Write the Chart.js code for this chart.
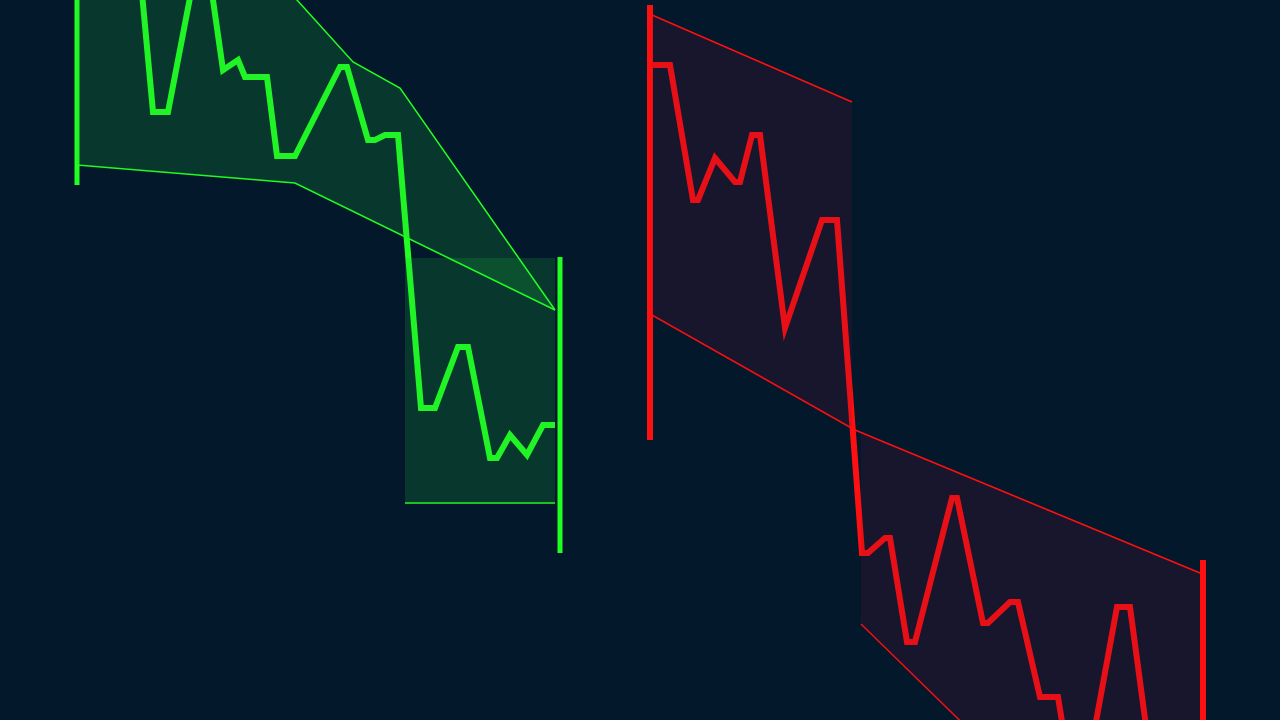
<!DOCTYPE html>
<html>
<head>
<meta charset="utf-8">
<script src="https://cdn.jsdelivr.net/npm/chart.js@4.4.1/dist/chart.umd.min.js"></script>
<style>
  html, body { margin: 0; padding: 0; background: #04182b; }
  #wrap { width: 1280px; height: 720px; }
</style>
</head>
<body>
<div id="wrap"><canvas id="myChart" width="1280" height="720"></canvas></div>
<script>
// time (x) and price (y) values
const greenTime  = [13.8, 15.3, 16.8, 20.3, 22.3, 23.8, 24.5, 26.7, 27.7, 29.5, 34.0, 34.7, 36.8, 37.5, 38.5, 39.8, 42.1, 43.5, 45.8, 46.8, 49.0, 49.7, 51.0, 52.7, 54.3, 55.5]
const greenPrice = [77.0, 60.8, 60.8, 79.0, 65.0, 66.0, 64.3, 64.3, 56.4, 56.4, 65.3, 65.3, 58.0, 58.0, 58.5, 58.5, 31.2, 31.2, 37.3, 37.3, 26.2, 26.2, 28.5, 26.5, 29.5, 29.5]

const redTime  = [65.3, 67.0, 69.3, 69.8, 71.5, 73.5, 74.0, 75.2, 76.0, 78.5, 82.2, 83.7, 86.2, 86.8, 88.5, 89.0, 90.7, 91.5, 95.2, 95.7, 98.3, 98.8, 101.0, 101.8, 104.0, 105.8, 107.8, 111.7, 113.0, 116.0]
const redPrice = [65.5, 65.5, 52.0, 52.0, 56.2, 53.8, 53.8, 58.5, 58.5, 39.2, 50.0, 50.0, 16.7, 16.7, 18.2, 18.2, 7.8, 7.8, 22.2, 22.2, 9.7, 9.7, 11.8, 11.8, 2.3, 2.3, -10.0, 11.3, 11.3, -11.0]

// channel borders
const gUpTime = [7.7, 29.7, 35.3, 40.0, 55.5], gUpPrice = [92.0, 72.0, 65.8, 63.2, 41.0]
const gLoTime = [7.7, 29.5, 55.5],             gLoPrice = [55.5, 53.7, 41.0]
const boxTime = [40.5, 55.5], boxTop = [46.2, 46.2], boxBottom = [21.7, 21.7]

const r1UpTime = [65.2, 85.2], r1UpPrice = [70.5, 61.8]
const r1LoTime = [65.2, 85.5], r1LoPrice = [40.5, 29.0]
const r2UpTime = [85.5, 120.0], r2UpPrice = [29.0, 14.7]
const r2LoTime = [86.1, 120.0], r2LoPrice = [9.6, -23.5]

// vertical markers [time, from, to]
const greenBars = [[7.7, 73.5, 53.5], [56.0, 46.3, 16.7]]
const redBars   = [[65.0, 71.5, 28.0], [120.3, 16.0, -5.0]]

const GREEN = '#22ff22', RED = '#ff1010'
const G_FILL = 'rgba(24,190,60,0.19)', R_FILL = 'rgba(120,20,60,0.17)'

function pts(xs, ys){ return xs.map((x,i) => ({x: x, y: ys[i]})) }

const datasets = []
// green channel
datasets.push({ data: pts(gUpTime, gUpPrice), borderColor: GREEN, borderWidth: 1.5, fill: '+1', backgroundColor: G_FILL })
datasets.push({ data: pts(gLoTime, gLoPrice), borderColor: GREEN, borderWidth: 1.5, fill: false })
// green box
datasets.push({ data: pts(boxTime, boxTop), borderColor: 'rgba(0,0,0,0)', borderWidth: 0, fill: '+1', backgroundColor: G_FILL })
datasets.push({ data: pts(boxTime, boxBottom), borderColor: GREEN, borderWidth: 1.5, fill: false })
// red channels
datasets.push({ data: pts(r1UpTime, r1UpPrice), borderColor: RED, borderWidth: 1.5, fill: '+1', backgroundColor: R_FILL })
datasets.push({ data: pts(r1LoTime, r1LoPrice), borderColor: RED, borderWidth: 1.5, fill: false })
datasets.push({ data: pts(r2UpTime, r2UpPrice), borderColor: RED, borderWidth: 1.5, fill: '+1', backgroundColor: R_FILL })
datasets.push({ data: pts(r2LoTime, r2LoPrice), borderColor: RED, borderWidth: 1.5, fill: false })
// price lines
datasets.push({ data: pts(greenTime, greenPrice), borderColor: GREEN, borderWidth: 6, fill: false })
datasets.push({ data: pts(redTime, redPrice), borderColor: RED, borderWidth: 6, fill: false })
// markers
greenBars.forEach(b => datasets.push({ data: [{x:b[0], y:b[1]}, {x:b[0], y:b[2]}], borderColor: GREEN, borderWidth: 5, fill: false }))
redBars.forEach(b => datasets.push({ data: [{x:b[0], y:b[1]}, {x:b[0], y:b[2]}], borderColor: RED, borderWidth: 6, fill: false }))

const ctx = document.getElementById('myChart');
new Chart(ctx, {
  type: 'line',
  data: { datasets: datasets },
  options: {
    responsive: false,
    animation: false,
    events: [],
    layout: { padding: 0 },
    elements: {
      point: { radius: 0 },
      line: { tension: 0, borderJoinStyle: 'miter', borderCapStyle: 'butt' }
    },
    plugins: { legend: { display: false }, tooltip: { enabled: false } },
    scales: {
      x: { type: 'linear', min: 0, max: 128, display: false },
      y: { type: 'linear', min: 0, max: 72, display: false }
    }
  }
});
</script>
</body>
</html>
